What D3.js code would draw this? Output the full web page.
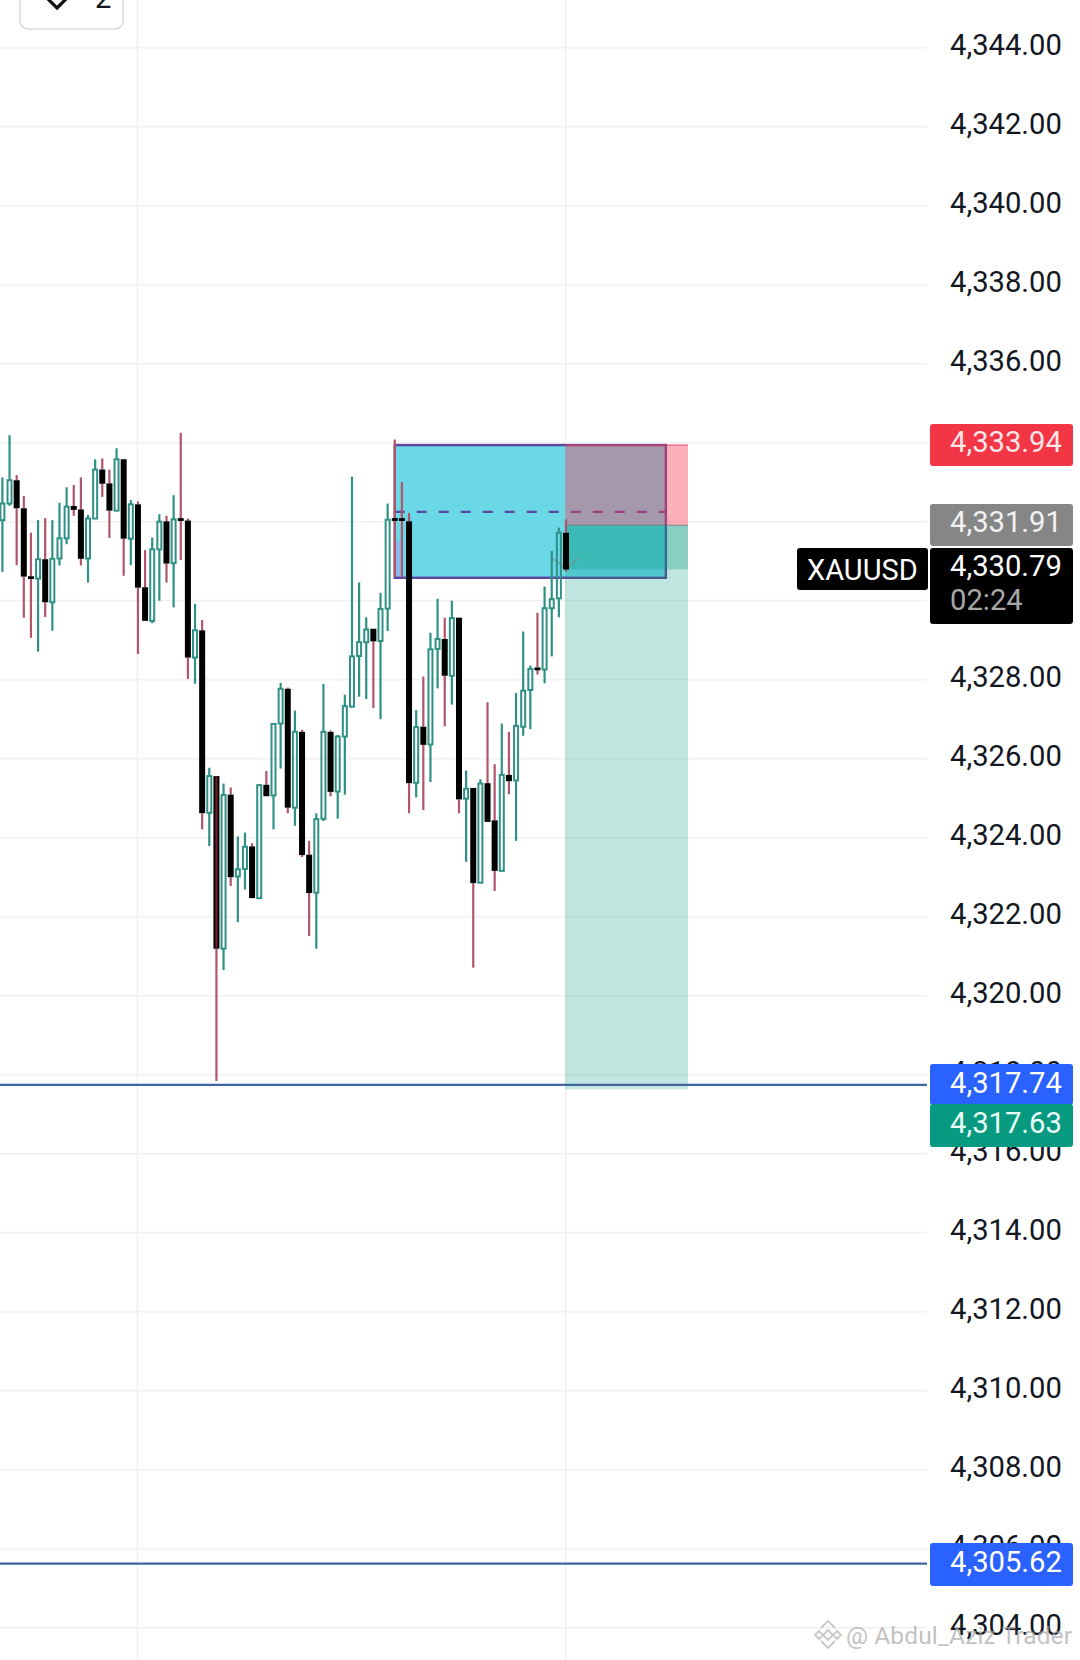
<!DOCTYPE html>
<html>
<head>
<meta charset="utf-8">
<script src="https://cdn.jsdelivr.net/npm/d3@7/dist/d3.min.js"></script>
<style>
html,body{margin:0;padding:0;background:#fff}
svg{display:block}
text{font-family:Roboto,sans-serif}
</style>
</head>
<body>
<svg id="c" width="1080" height="1660"></svg>
<script>
const opens = [4332.04,4332.46,4333.05,4332.34,4330.62,4330.56,4331.05,4329.96,4331.07,4331.58,
4332.40,4332.31,4331.07,4332.08,4333.32,4332.97,4332.28,4333.58,4331.57,4332.44,
4330.34,4329.49,4331.30,4332.01,4330.95,4332.09,4332.03,4328.56,4329.25,4324.63,
4325.56,4321.19,4325.09,4323.02,4323.21,4323.78,4322.47,4325.34,4325.07,4326.89,
4327.77,4324.76,4326.68,4323.57,4322.61,4324.48,4326.68,4325.17,4326.56,4327.32,
4328.60,4328.95,4329.29,4328.98,4329.80,4332.09,4332.09,4332.01,4325.39,4326.81,
4326.36,4328.78,4329.03,4328.10,4329.57,4324.99,4325.26,4322.86,4325.38,4324.44,
4323.16,4325.59,4325.45,4326.81,4327.74,4328.31,4328.26,4329.81,4330.06,4331.72];
const closes = [4332.46,4333.05,4332.34,4330.61,4330.56,4331.05,4329.96,4331.06,4331.58,4332.38,
4332.30,4331.06,4332.08,4333.32,4332.96,4332.28,4333.58,4331.57,4332.44,4330.33,
4329.49,4331.30,4332.00,4330.94,4332.06,4332.06,4328.56,4329.25,4324.62,4325.56,
4321.19,4325.08,4323.00,4323.20,4323.77,4322.47,4325.33,4325.05,4326.88,4327.77,
4324.76,4326.68,4323.56,4322.60,4324.47,4326.68,4325.16,4326.56,4327.33,4328.59,
4328.95,4329.27,4328.97,4329.79,4332.05,4332.05,4332.05,4325.38,4326.80,4326.35,
4328.77,4329.03,4328.10,4329.56,4324.97,4325.24,4322.85,4325.37,4324.40,4323.16,
4325.59,4325.43,4326.83,4327.72,4328.27,4328.27,4329.81,4330.04,4331.72,4330.79];
const highs = [4333.12,4334.19,4333.18,4332.65,4331.72,4332.04,4332.09,4332.04,4332.48,4332.87,
4332.93,4333.12,4332.17,4333.58,4333.60,4333.32,4333.86,4333.59,4332.55,4332.51,
4331.28,4331.60,4332.19,4332.15,4332.67,4334.25,4332.08,4329.92,4329.51,4325.77,
4325.56,4325.37,4325.27,4324.03,4324.13,4323.86,4325.35,4325.69,4326.88,4327.92,
4327.80,4327.22,4326.73,4323.92,4324.62,4327.89,4326.72,4326.60,4327.62,4333.14,
4330.46,4329.58,4329.29,4330.20,4332.46,4334.08,4333.00,4332.22,4327.23,4328.08,
4329.19,4330.05,4329.57,4330.00,4329.57,4325.70,4325.26,4325.48,4327.43,4325.86,
4326.89,4326.68,4327.66,4329.22,4328.36,4329.69,4330.36,4331.26,4331.85,4332.06];
const lows = [4330.73,4332.40,4330.90,4329.57,4329.06,4328.71,4329.59,4329.24,4330.89,4331.43,
4332.15,4330.89,4330.46,4332.08,4332.63,4331.59,4332.28,4330.63,4330.90,4328.65,
4329.49,4329.43,4330.00,4330.46,4329.83,4331.03,4328.02,4327.90,4324.21,4323.79,
4317.84,4320.65,4322.78,4321.86,4322.69,4322.47,4322.47,4325.05,4324.21,4325.75,
4324.62,4324.30,4323.51,4321.51,4321.19,4324.42,4325.05,4324.48,4325.09,4327.30,
4327.57,4327.51,4327.28,4327.00,4329.23,4330.60,4330.60,4324.62,4325.02,4324.70,
4325.41,4327.78,4326.82,4327.37,4324.62,4323.39,4320.71,4322.86,4324.40,4322.65,
4323.16,4325.10,4323.92,4326.58,4326.75,4328.13,4327.91,4328.59,4329.58,4330.73];

const gridTicks = [4344,4342,4340,4338,4336,4334,4332,4330,4328,4326,4324,4322,4320,4318,4316,4314,4312,4310,4308,4306,4304];
const labelTicks = [4344,4342,4340,4338,4336,4328,4326,4324,4322,4320,4318,4316,4314,4312,4310,4308,4306,4304];
const timeGridIdx = [18.95,78.95];

const stopPrice = 4333.94, entryPrice = 4331.91, lastPrice = 4330.79, targetPrice = 4317.63;
const hLineA = 4317.74, hLineB = 4305.62;
const zoneTop = 4333.94, zoneBottom = 4330.58, zoneMid = 4332.25, zoneShadeTop = 4331.5;
const zoneStartIdx = 55, zoneEndIdx = 93, posStartIdx = 78.9, posEndIdx = 96.1;
const symbol = "XAUUSD", countdown = "02:24";
const watermark = "@ Abdul_Aziz Trader";

const UP="#2f9186", DOWN_W="#b0566a", GRID="#f1f1f1";
const fmt = d3.format(",.2f");
const n = opens.length;
const svg = d3.select("#c");
const x = d3.scaleLinear().domain([0,79]).range([2.4,566]);
const y = d3.scaleLinear().domain([4344,4304]).range([47.7,1627.7]);
const plotW = 927, LX = 950, FS = 29.2;

// grid
const gh = svg.append("g").call(d3.axisLeft(y).offset(0).tickValues(gridTicks).tickSize(-plotW).tickFormat(""));
gh.select(".domain").remove();
gh.selectAll("line").attr("stroke",GRID).attr("stroke-width",1.8);
const gv = svg.append("g").call(d3.axisBottom(x).offset(0).tickValues(timeGridIdx).tickSize(1660).tickFormat(""));
gv.select(".domain").remove();
gv.selectAll("line").attr("stroke",GRID).attr("stroke-width",1.8);

// order box
const PUR="#5a469f";
svg.append("rect").attr("x",x(zoneStartIdx)).attr("y",y(zoneTop)).attr("width",x(zoneEndIdx)-x(zoneStartIdx))
  .attr("height",y(zoneBottom)-y(zoneTop)).attr("fill","#6bd8e8");
svg.append("rect").attr("x",x(zoneStartIdx)).attr("y",y(zoneShadeTop)).attr("width",x(zoneStartIdx+1)-x(zoneStartIdx))
  .attr("height",y(zoneBottom)-y(zoneShadeTop)).attr("fill","#8fb9ee");
svg.append("rect").attr("x",x(zoneStartIdx)).attr("y",y(zoneTop)).attr("width",x(zoneEndIdx)-x(zoneStartIdx))
  .attr("height",y(zoneBottom)-y(zoneTop)).attr("fill","none").attr("stroke",PUR).attr("stroke-width",2.4);
svg.append("line").attr("x1",x(zoneStartIdx)).attr("x2",x(zoneEndIdx)).attr("y1",y(zoneMid)).attr("y2",y(zoneMid))
  .attr("stroke",PUR).attr("stroke-width",2.4).attr("stroke-dasharray","10 12");

// position tool
const px=x(posStartIdx), pw=x(posEndIdx)-px;
svg.append("rect").attr("x",px).attr("y",y(stopPrice)).attr("width",pw).attr("height",y(entryPrice)-y(stopPrice)).attr("fill","#fc3952").attr("opacity",.4);
svg.append("rect").attr("x",px).attr("y",y(entryPrice)).attr("width",pw).attr("height",y(targetPrice)-y(entryPrice)).attr("fill","#089981").attr("opacity",.25);
svg.append("rect").attr("x",px).attr("y",y(entryPrice)).attr("width",pw).attr("height",y(lastPrice)-y(entryPrice)).attr("fill","#089981").attr("opacity",.293);
svg.append("line").attr("x1",px).attr("x2",px+pw).attr("y1",y(entryPrice)).attr("y2",y(entryPrice)).attr("stroke","#777").attr("stroke-opacity",.55).attr("stroke-width",1.5);
svg.append("line").attr("x1",px).attr("x2",px+pw).attr("y1",y(stopPrice)).attr("y2",y(stopPrice)).attr("stroke","#e0355f").attr("stroke-opacity",.6).attr("stroke-width",1.6);

// horizontal levels
[hLineA,hLineB].forEach(v=>svg.append("line").attr("x1",0).attr("x2",plotW).attr("y1",y(v)).attr("y2",y(v)).attr("stroke","#3f669f").attr("stroke-width",2.3));

// check mark at last candle
svg.append("path").attr("d",`M${x(79)-13},${y(lastPrice)-11}L${x(79)},${y(lastPrice)-1}L${x(79)+12},${y(lastPrice)-11}`)
 .attr("fill","none").attr("stroke","#6f8f88").attr("stroke-opacity",.6).attr("stroke-width",2);

// candles
const cw=6;
const g = svg.append("g");
d3.range(n).forEach(i=>{
  const cx=x(i), up=closes[i]>opens[i];
  const t=Math.max(opens[i],closes[i]), b=Math.min(opens[i],closes[i]);
  const wc= up?UP:DOWN_W;
  g.append("line").attr("x1",cx).attr("x2",cx).attr("y1",y(highs[i])).attr("y2",y(t)).attr("stroke",wc).attr("stroke-width",2.2);
  g.append("line").attr("x1",cx).attr("x2",cx).attr("y1",y(b)).attr("y2",y(lows[i])).attr("stroke",wc).attr("stroke-width",2.2);
  if(up){
    g.append("rect").attr("x",cx-2).attr("y",y(t)).attr("width",4).attr("height",y(b)-y(t))
      .attr("fill","none").attr("stroke",UP).attr("stroke-width",2);
  } else {
    const h=Math.max(y(b)-y(t),2.8);
    g.append("rect").attr("x",cx-3).attr("y",y(t)).attr("width",cw).attr("height",h).attr("fill","#000");
    if(i===30) g.append("line").attr("x1",cx).attr("x2",cx).attr("y1",y(t)).attr("y2",y(b)).attr("stroke","#6e1f2a").attr("stroke-width",2.2);
  }
});

// price axis
const ax = svg.append("g").attr("transform",`translate(${LX},0)`).call(d3.axisRight(y).offset(0).tickValues(labelTicks).tickSize(0).tickPadding(0).tickFormat(fmt));
ax.select(".domain").remove();
ax.selectAll("text").attr("font-family","Roboto,sans-serif").attr("font-size",FS).attr("fill","#131722").attr("dy","0.24em");

// badges
function badge(x0,x1,y0,y1,fill){
  svg.append("rect").attr("x",x0).attr("y",y0).attr("width",x1-x0).attr("height",y1-y0).attr("rx",3).attr("fill",fill);
}
function label(txt,xx,by,fill){
  svg.append("text").attr("x",xx).attr("y",by).attr("font-size",FS).attr("fill",fill).text(txt);
}
badge(930,1073,424,466,"#f23645"); label(fmt(stopPrice),LX,452,"#fde6e8");
badge(930,1073,504,546,"#868686"); label(fmt(entryPrice),LX,531.5,"#f2f2f2");
badge(930,1073,548,624,"#000");
badge(797,928,548,590,"#000");
svg.append("text").attr("x",807).attr("y",580).attr("font-size",29).attr("fill","#fff").text(symbol);
label(fmt(lastPrice),LX,576,"#fff");
label(countdown,LX,610,"#a8a8a8");
badge(930,1073,1064,1105,"#2962ff"); label(fmt(hLineA),LX,1093,"#fff");
badge(930,1073,1104,1147,"#089981"); label(fmt(targetPrice),LX,1133,"#eafff8");
badge(930,1073,1543,1586,"#2962ff"); label(fmt(hLineB),LX,1572,"#fff");

// top-left button
svg.append("rect").attr("x",20).attr("y",-20).attr("width",103).attr("height",49).attr("rx",8).attr("fill","#fff").attr("stroke","#dcdcdc").attr("stroke-width",1.6);
svg.append("path").attr("d","M57,8L70,-5L57,-18L44,-5Z").attr("fill","none").attr("stroke","#111").attr("stroke-width",3.2);
svg.append("text").attr("x",95).attr("y",8).attr("font-size",29).attr("fill","#131722").text("2");

// watermark
const wm=svg.append("g").attr("fill","none").attr("stroke","#c8c8c8").attr("stroke-width",1.8);
wm.append("path").attr("d","M821,1628L828,1621L835,1628");
wm.append("path").attr("d","M821,1641L828,1648L835,1641");
wm.append("path").attr("d","M828,1630L833,1635L828,1640L823,1635Z");
wm.append("path").attr("d","M815,1635L819,1631L823,1635L819,1639Z");
wm.append("path").attr("d","M833,1635L837,1631L841,1635L837,1639Z");
svg.append("text").attr("x",846).attr("y",1644).attr("font-size",24.5).attr("fill","#aaaaaa").attr("fill-opacity",.72).attr("textLength",226).text(watermark);
</script>
</body>
</html>
